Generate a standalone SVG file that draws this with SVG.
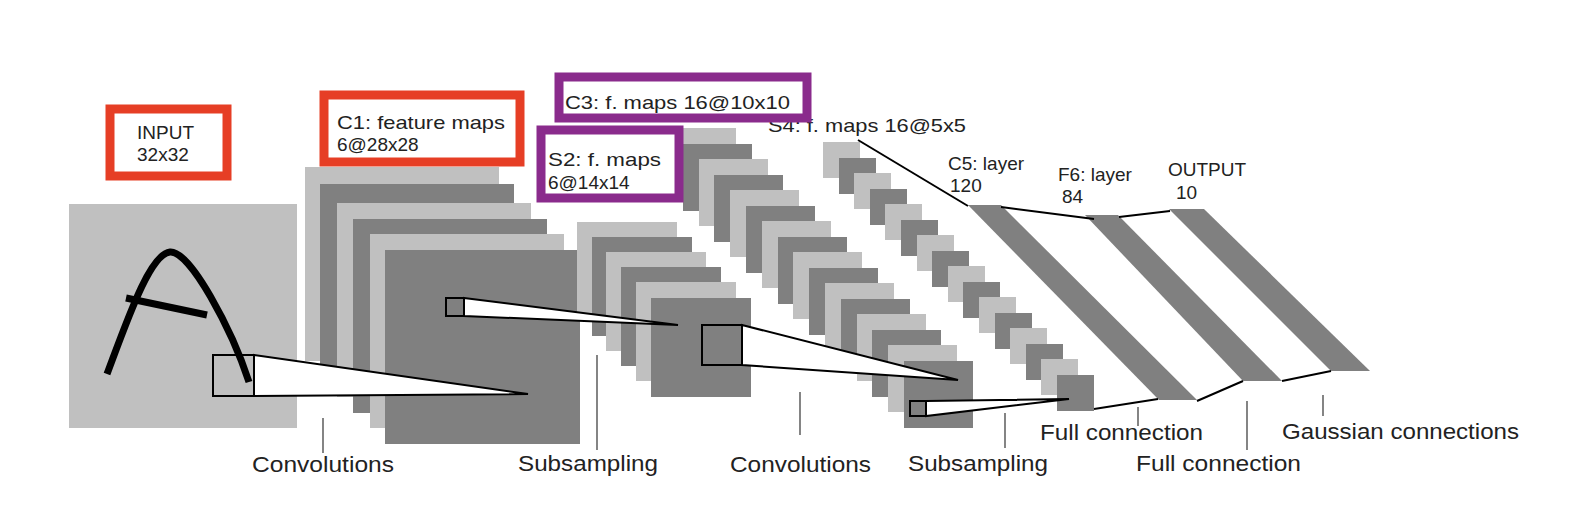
<svg xmlns="http://www.w3.org/2000/svg" width="1572" height="524" viewBox="0 0 1572 524">
<style>
.l{fill:#c0c0c0}.d{fill:#808080}
text{font-family:"Liberation Sans",Arial,sans-serif;fill:#222}
.t{font-size:19px}.b{font-size:22px}
.cone{fill:#fff;stroke:#000;stroke-width:2}
.sq{fill:none;stroke:#000;stroke-width:2}
.ln{stroke:#000;stroke-width:2;fill:none}
.tick{stroke:#333;stroke-width:1.2}
.red{fill:#fff;stroke:#e63e25;stroke-width:9}
.pur{fill:#fff;stroke:#8a2b8c;stroke-width:9}
</style>
<rect width="1572" height="524" fill="#fff"/>
<g id="input">
<rect class="l" x="69" y="204" width="228" height="224"/>
<path d="M107,374 C128,318 150,254 170,252 C190,250 232,330 249,382" fill="none" stroke="#000" stroke-width="7"/>
<line x1="126" y1="298" x2="207" y2="315" stroke="#000" stroke-width="7"/>
</g>
<g id="c1">
<rect class="l" x="305" y="167" width="194" height="194"/>
<rect class="d" x="320" y="184" width="194" height="194"/>
<rect class="l" x="337" y="203" width="194" height="194"/>
<rect class="d" x="353" y="219" width="194" height="194"/>
<rect class="l" x="370" y="234" width="194" height="194"/>
<rect class="d" x="385" y="250" width="195" height="194"/>
</g>
<g id="s2">
<rect class="l" x="577" y="222" width="100" height="99"/>
<rect class="d" x="592" y="237" width="100" height="99"/>
<rect class="l" x="606" y="252" width="100" height="99"/>
<rect class="d" x="621" y="267" width="100" height="99"/>
<rect class="l" x="636" y="282" width="100" height="99"/>
<rect class="d" x="651" y="298" width="100" height="99"/>
</g>
<g id="c3">
<rect class="l" x="667" y="128" width="69" height="67"/>
<rect class="d" x="683" y="144" width="69" height="67"/>
<rect class="l" x="699" y="159" width="69" height="67"/>
<rect class="d" x="714" y="175" width="69" height="67"/>
<rect class="l" x="730" y="190" width="69" height="67"/>
<rect class="d" x="746" y="206" width="69" height="67"/>
<rect class="l" x="762" y="221" width="69" height="67"/>
<rect class="d" x="778" y="237" width="69" height="67"/>
<rect class="l" x="793" y="252" width="69" height="67"/>
<rect class="d" x="809" y="268" width="69" height="67"/>
<rect class="l" x="825" y="283" width="69" height="67"/>
<rect class="d" x="841" y="299" width="69" height="67"/>
<rect class="l" x="857" y="314" width="69" height="67"/>
<rect class="d" x="872" y="330" width="69" height="67"/>
<rect class="l" x="888" y="345" width="69" height="67"/>
<rect class="d" x="904" y="361" width="69" height="67"/>
</g>
<g id="s4">
<rect class="l" x="823" y="142" width="37" height="36"/>
<rect class="d" x="839" y="158" width="37" height="36"/>
<rect class="l" x="854" y="173" width="37" height="36"/>
<rect class="d" x="870" y="189" width="37" height="36"/>
<rect class="l" x="885" y="204" width="37" height="36"/>
<rect class="d" x="901" y="220" width="37" height="36"/>
<rect class="l" x="917" y="235" width="37" height="36"/>
<rect class="d" x="932" y="251" width="37" height="36"/>
<rect class="l" x="948" y="266" width="37" height="36"/>
<rect class="d" x="963" y="282" width="37" height="36"/>
<rect class="l" x="979" y="297" width="37" height="36"/>
<rect class="d" x="995" y="313" width="37" height="36"/>
<rect class="l" x="1010" y="328" width="37" height="36"/>
<rect class="d" x="1026" y="344" width="37" height="36"/>
<rect class="l" x="1041" y="359" width="37" height="36"/>
<rect class="d" x="1057" y="375" width="37" height="36"/>
</g>
<g id="c5"><polygon class="d" points="968,205 1001,205 1197,400 1159,400"/></g>
<g id="f6"><polygon class="d" points="1085,215 1118,215 1282,381 1243,381"/></g>
<g id="output"><polygon class="d" points="1169,209 1204,209 1370,371 1331,371"/></g>
<g id="connectors">
<rect class="sq" x="213" y="355" width="41" height="41"/>
<polygon class="cone" points="254,355 528,394 254,396"/>
<rect class="sq" x="446" y="298" width="18" height="18"/>
<polygon class="cone" points="464,298 678,325 464,316"/>
<rect class="sq" x="702" y="325" width="40" height="40"/>
<polygon class="cone" points="742,325 958,380 742,365"/>
<rect class="sq" x="910" y="401" width="16" height="15"/>
<polygon class="cone" points="926,401 1069,399 926,416"/>
<line class="ln" x1="858" y1="140" x2="968" y2="206"/>
<polyline class="ln" points="1001,207 1094,219"/>
<polyline class="ln" points="1119,217 1170,211"/>
<polyline class="ln" points="1094,409 1158,399"/>
<polyline class="ln" points="1197,401 1243,381"/>
<polyline class="ln" points="1282,381 1331,371"/>
<line class="tick" x1="323" y1="418" x2="323" y2="453"/>
<line class="tick" x1="597" y1="355" x2="597" y2="450"/>
<line class="tick" x1="800" y1="392" x2="800" y2="435"/>
<line class="tick" x1="1005" y1="413" x2="1005" y2="448"/>
<line class="tick" x1="1138" y1="407" x2="1138" y2="426"/>
<line class="tick" x1="1247" y1="401" x2="1247" y2="450"/>
<line class="tick" x1="1323" y1="395" x2="1323" y2="416"/>
</g>
<g id="labels">
<text class="t" x="768" y="132" textLength="198" lengthAdjust="spacingAndGlyphs">S4: f. maps 16@5x5</text>
<rect class="red" x="110" y="109" width="117" height="67"/>
<text class="t" x="137" y="139">INPUT</text>
<text class="t" x="137" y="161">32x32</text>
<rect class="red" x="324" y="95" width="196" height="67"/>
<text class="t" x="337" y="129" textLength="168" lengthAdjust="spacingAndGlyphs">C1: feature maps</text>
<text class="t" x="337" y="151">6@28x28</text>
<rect class="pur" x="541" y="130" width="138" height="68"/>
<text class="t" x="548" y="166" textLength="113" lengthAdjust="spacingAndGlyphs">S2: f. maps</text>
<text class="t" x="548" y="189">6@14x14</text>
<rect class="pur" x="559" y="77" width="248" height="41"/>
<text class="t" x="565" y="109" textLength="225" lengthAdjust="spacingAndGlyphs">C3: f. maps 16@10x10</text>
<text class="t" x="948" y="170">C5: layer</text>
<text class="t" x="950" y="192">120</text>
<text class="t" x="1058" y="181">F6: layer</text>
<text class="t" x="1062" y="203">84</text>
<text class="t" x="1168" y="176">OUTPUT</text>
<text class="t" x="1176" y="199">10</text>
<text class="b" x="252" y="472" textLength="142" lengthAdjust="spacingAndGlyphs">Convolutions</text>
<text class="b" x="518" y="471" textLength="140" lengthAdjust="spacingAndGlyphs">Subsampling</text>
<text class="b" x="730" y="472" textLength="141" lengthAdjust="spacingAndGlyphs">Convolutions</text>
<text class="b" x="908" y="471" textLength="140" lengthAdjust="spacingAndGlyphs">Subsampling</text>
<text class="b" x="1040" y="440" textLength="163" lengthAdjust="spacingAndGlyphs">Full connection</text>
<text class="b" x="1136" y="471" textLength="165" lengthAdjust="spacingAndGlyphs">Full connection</text>
<text class="b" x="1282" y="439" textLength="237" lengthAdjust="spacingAndGlyphs">Gaussian connections</text>
</g>
</svg>
